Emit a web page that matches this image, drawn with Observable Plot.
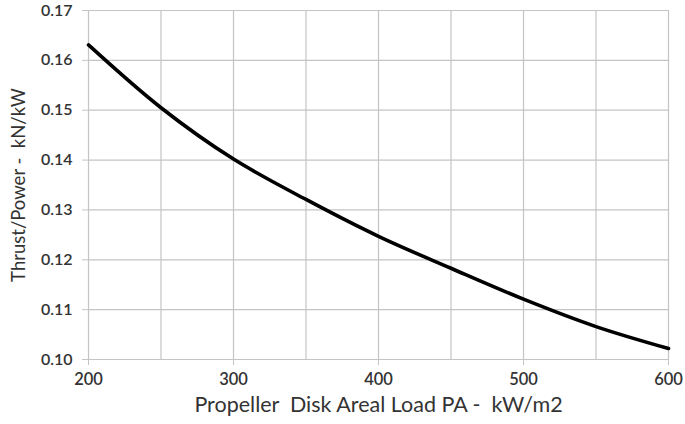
<!DOCTYPE html>
<html>
<head>
<meta charset="utf-8">
<script src="https://cdn.jsdelivr.net/npm/d3@7"></script>
<script src="https://cdn.jsdelivr.net/npm/@observablehq/plot@0.6"></script>
<style>
  html, body { margin: 0; padding: 0; background: #fff; }
  #chart svg { display: block; }
</style>
</head>
<body>
<div id="chart"></div>
<script>
const diskLoad = [200, 250, 300, 350, 400, 450, 500, 550, 600];
const thrustPerPower = [0.1631, 0.1505, 0.1402, 0.1321, 0.1247, 0.1183, 0.1121, 0.1066, 0.1022];
const xTicks = [200, 300, 400, 500, 600];
const xGrid = [200, 250, 300, 350, 400, 450, 500, 550, 600];
const yTicks = [0.10, 0.11, 0.12, 0.13, 0.14, 0.15, 0.16, 0.17];

const data = diskLoad.map((x, i) => ({x, y: thrustPerPower[i]}));
const grid = "#c4c4c4";
const font = "Lato, 'Open Sans', sans-serif";

const chart = Plot.plot({
  width: 685,
  height: 424,
  marginLeft: 88,
  marginRight: 17,
  marginTop: 10,
  marginBottom: 65,
  style: {fontFamily: font, background: "#fff", overflow: "visible"},
  x: {domain: [200, 600]},
  y: {domain: [0.10, 0.17]},
  marks: [
    Plot.ruleX(xGrid, {stroke: grid, strokeWidth: 1.2}),
    Plot.ruleY(yTicks, {stroke: grid, strokeWidth: 1.2}),
    Plot.axisY({
      ticks: yTicks, tickFormat: d3.format(".2f"), tickSize: 6, tickPadding: 10,
      stroke: grid, fill: "#333", fontSize: 16, fontWeight: 600,
      label: "Thrust/Power -  kN/kW", labelAnchor: "center", labelArrow: "none", labelOffset: 77
    }),
    Plot.axisX({
      ticks: xTicks, tickFormat: d => String(d), tickSize: 6, tickPadding: 8,
      stroke: grid, fill: "#333", fontSize: 16.5, fontWeight: 600,
      label: "Propeller  Disk Areal Load PA -  kW/m2", labelAnchor: "center", labelArrow: "none", labelOffset: 52
    }),
    Plot.line(data, {x: "x", y: "y", stroke: "#000", strokeWidth: 3.6, curve: "catmull-rom"})
  ]
});

d3.select(chart).selectAll("g[aria-label='y-axis label'] text")
  .attr("font-size", 18.5).attr("font-weight", 400).attr("fill", "#333").style("white-space", "pre");
d3.select(chart).selectAll("g[aria-label='x-axis label'] text")
  .attr("font-size", 21.5).attr("font-weight", 400).attr("fill", "#333").style("white-space", "pre");

document.getElementById("chart").appendChild(chart);
</script>
</body>
</html>
